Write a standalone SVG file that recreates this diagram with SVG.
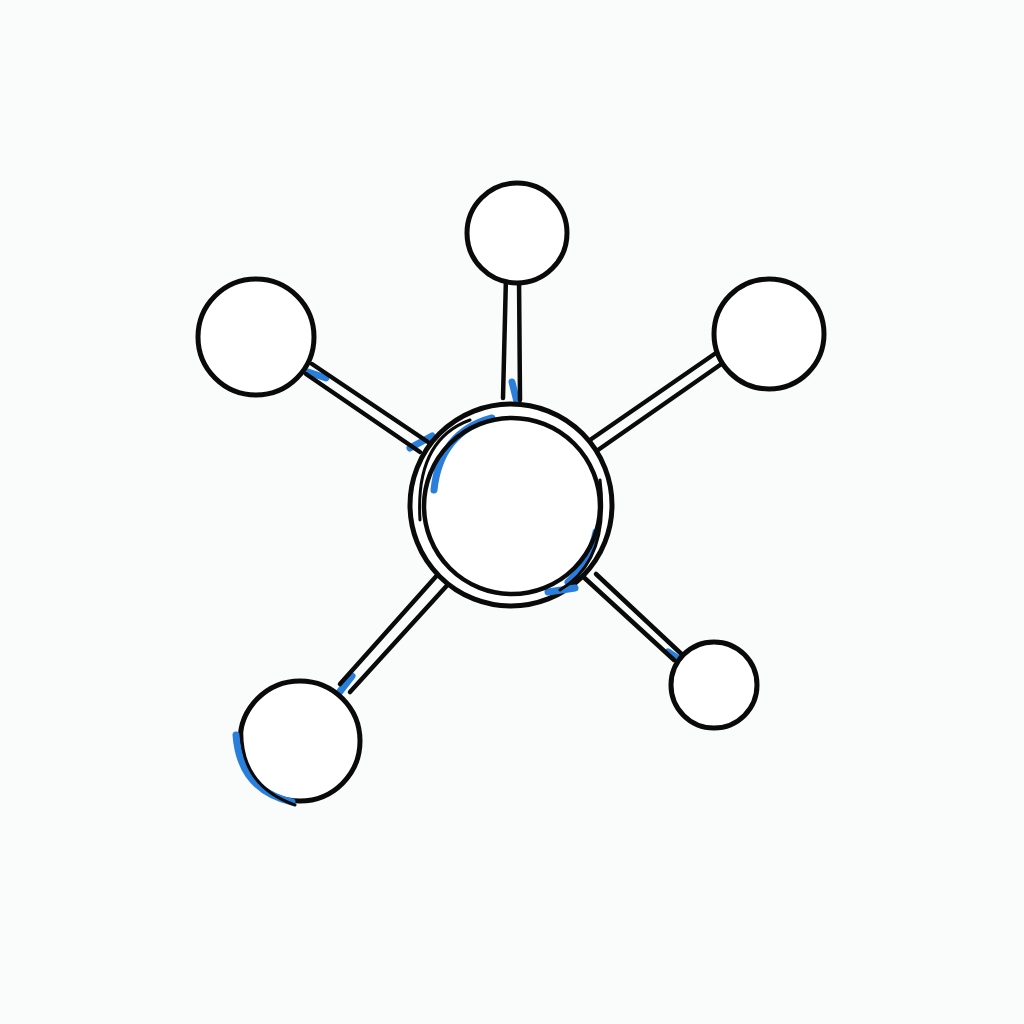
<svg xmlns="http://www.w3.org/2000/svg" width="1024" height="1024" viewBox="0 0 1024 1024">
<style>
.ink{fill:none;stroke:#0a0a0a;stroke-width:4.5;stroke-linecap:round;stroke-linejoin:round}
.thin{fill:none;stroke:#0a0a0a;stroke-width:3;stroke-linecap:round}
.node{fill:#ffffff;stroke:#0a0a0a;stroke-width:5}
.blue{fill:none;stroke:#2a7fdc;stroke-width:7;stroke-linecap:round}
</style>
<rect width="1024" height="1024" fill="#fafcfc"/>
<g id="connectors">
<path class="blue" d="M308 372 L326 378"/>
<path class="blue" d="M512 382 L517 402"/>
<path class="blue" d="M338 694 L352 676"/>
<path class="blue" d="M668 652 L686 664"/>
<path class="blue" d="M410 448 L432 436"/>
<path class="ink" d="M506 276 L503 398"/>
<path class="ink" d="M519 276 L520 400"/>
<path class="ink" d="M312 364 L428 442"/>
<path class="ink" d="M306 374 L420 452"/>
<path class="ink" d="M726 346 L590 440"/>
<path class="ink" d="M730 358 L598 450"/>
<path class="ink" d="M340 684 L440 572"/>
<path class="ink" d="M350 692 L452 580"/>
<path class="ink" d="M674 660 L578 572"/>
<path class="ink" d="M690 662 L596 574"/>
</g>
<g id="center">
<circle cx="511" cy="505" r="101" class="node"/>
<path class="blue" d="M434 490 Q440 432 492 418"/>
<path class="blue" d="M568 582 Q590 562 596 532"/>
<path class="blue" d="M548 592 L575 588"/>
<circle cx="512" cy="506" r="88" class="ink"/>
<path class="thin" d="M420 520 Q415 440 470 420"/>
<path class="thin" d="M600 480 Q610 560 560 590"/>
</g>
<g id="n-top">
<circle cx="517" cy="233" r="50" class="node"/>
</g>
<g id="n-ul">
<circle cx="256" cy="337" r="58" class="node"/>
</g>
<g id="n-ur">
<circle cx="769" cy="334" r="55" class="node"/>
</g>
<g id="n-ll">
<circle cx="300" cy="741" r="60" class="node"/>
<path class="blue" d="M236 735 Q240 790 292 802"/>
<path class="thin" d="M242 725 Q238 785 295 805"/>
</g>
<g id="n-lr">
<circle cx="714" cy="685" r="43" class="node"/>
</g>
</svg>
